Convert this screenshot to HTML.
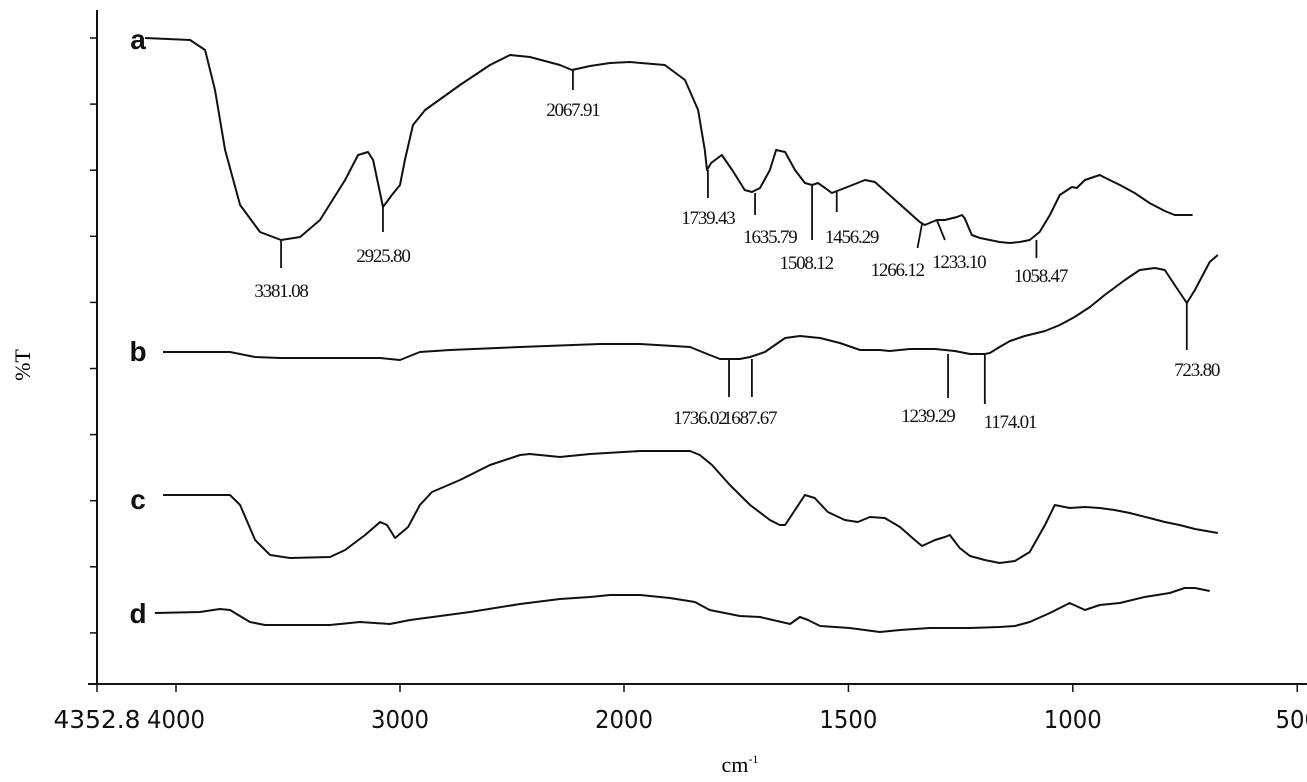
<!DOCTYPE html>
<html><head><meta charset="utf-8"><style>
html,body{margin:0;padding:0;background:#fff;}
svg{display:block;}
.tk{font-family:"DejaVu Sans","Liberation Sans",sans-serif;font-size:25px;fill:#111;}
.ann{font-family:"Liberation Serif",serif;font-size:19px;fill:#111;letter-spacing:-1.2px;}
.lbl{font-family:"Liberation Sans",sans-serif;font-weight:bold;font-size:28px;fill:#111;}
</style></head><body>
<svg id="chart" width="1307" height="782" viewBox="0 0 1307 782">
<g id="axes"></g>
<g id="series"></g>
<g id="anns"></g>
<text x="30" y="365" style="font-family:'Liberation Serif',serif;font-size:22px" transform="rotate(-90 30 365)" text-anchor="middle">%T</text>
<text x="740" y="772" style="font-family:'Liberation Serif',serif;font-size:22px" text-anchor="middle">cm<tspan dy="-9" font-size="12">-1</tspan></text>
</svg>
<script>
// x ticks (wavenumber) and labels
const xTicks = [4352.8, 4000, 3000, 2000, 1500, 1000, 500];
const xTickLabels = ["4352.8", "4000", "3000", "2000", "1500", "1000", "500"];
const yTickCount = 10;
// spectrum a
const aWn = [4138,3937,3870,3826,3781,3714,3625,3531,3446,3357,3245,3187,3143,3120,3076,3036,3000,2978,2942,2888,2732,2598,2509,2420,2286,2232,2152,2062,1987,1909,1864,1835,1820,1815,1806,1782,1759,1731,1715,1697,1675,1661,1641,1619,1597,1581,1568,1552,1537,1508,1463,1441,1396,1341,1330,1303,1285,1258,1247,1241,1225,1207,1185,1163,1140,1118,1096,1074,1051,1029,1002,991,973,940,918,895,862,829,795,773,733];
const aT = [645,643,633,593,533,478,451,443,446,463,503,528,531,523,476,488,498,523,558,573,598,618,628,626,618,613,617,620,621,618,603,573,533,513,520,528,513,493,491,495,513,533,531,513,500,498,500,495,490,495,503,501,483,461,458,463,463,466,468,465,448,445,443,441,440,441,443,451,468,488,496,495,503,508,503,498,490,480,472,468,468];
// spectrum b
const bWn = [4058,3759,3647,3536,3089,3000,2911,2777,2464,2107,1964,1853,1809,1786,1742,1719,1686,1641,1608,1563,1519,1474,1430,1408,1363,1307,1263,1229,1196,1185,1163,1140,1107,1062,1029,996,962,929,884,851,817,795,773,746,728,695,677];
const bT = [331,331,326,325,325,323,331,333,336,339,339,336,328,324,324,326,331,345,347,345,340,333,333,332,334,334,332,329,329,330,336,342,347,352,358,366,376,388,403,413,415,413,398,380,393,421,428];
// spectrum c
const cWn = [4058,3759,3714,3647,3580,3491,3312,3245,3156,3089,3058,3022,2964,2911,2857,2732,2598,2464,2420,2286,2152,1964,1853,1831,1804,1764,1719,1675,1653,1641,1619,1597,1575,1546,1508,1479,1452,1419,1385,1352,1336,1307,1285,1274,1252,1229,1196,1163,1129,1096,1062,1040,1007,973,940,907,873,829,795,762,728,677];
const cT = [188,188,178,143,128,125,126,133,148,161,158,145,156,178,191,203,218,228,229,226,229,232,232,228,218,198,178,163,158,158,173,188,185,171,163,161,166,165,156,143,137,143,146,148,135,127,123,120,122,131,158,178,175,176,175,173,170,165,161,158,154,150];
// spectrum d
const dWn = [4094,3893,3804,3759,3670,3603,3312,3179,3045,2955,2821,2687,2464,2286,2152,2062,1964,1898,1842,1809,1742,1697,1630,1608,1590,1563,1497,1430,1385,1319,1229,1163,1129,1096,1051,1007,973,940,895,840,784,751,728,695];
const dT = [70,71,74,73,61,58,58,61,59,63,67,71,79,84,86,88,88,85,81,73,67,66,59,66,63,57,55,51,53,55,55,56,57,61,70,80,73,78,80,86,90,95,95,92];
// peak annotations
const annLabels = ["3381.08","2925.80","2067.91","1739.43","1635.79","1508.12","1456.29","1266.12","1233.10","1058.47","1736.02","1687.67","1239.29","1174.01","723.80"];
const annWnTop = [3531,3076,2228,1813,1708,1581,1526,1336,1303,1081,1766,1715,1278,1196,746];
const annWnBot = [3531,3076,2228,1813,1708,1581,1526,1346,1285,1081,1766,1715,1278,1196,746];
const annTTop = [443,476,613,513,490,497,491,459,463,443,324,324,329,328,380];
const annTBot = [415,451,593,485,468,443,471,435,443,425,286,286,285,279,333];
const annLabelWn = [3531,3076,2228,1813,1675,1594,1493,1391,1254,1072,1831,1720,1323,1140,724];
const annLabelT = [393,428,574,466,447,421,447,414,422,408,266,266,268,262,314];

function xScale(w){ return w >= 2000 ? 624 - (w - 2000) * 0.224 : 624 + (2000 - w) * 0.4488; }
function yScale(t){ return 683 - t; }
const NS = "http://www.w3.org/2000/svg";
function mk(tag, attrs, parent){ const e = document.createElementNS(NS, tag); for (const k in attrs) e.setAttribute(k, attrs[k]); parent.appendChild(e); return e; }

const axes = document.getElementById('axes');
let e = mk('line', {x1:97,y1:10,x2:97,y2:684,stroke:'#111','stroke-width':2}, axes);


e = mk('line', {x1:88,y1:684,x2:1307,y2:684,stroke:'#111','stroke-width':2}, axes);


for (let i = 0; i < yTickCount; i++) {
  const y = 38 + i * 66.1;
  e = mk('line', {x1:90,y1:y,x2:97,y2:y,stroke:'#111','stroke-width':1.5}, axes);
  
  
}
xTicks.forEach((w, i) => {
  const x = xScale(w);
  e = mk('line', {x1:x,y1:684,x2:x,y2:692,stroke:'#111','stroke-width':1.5}, axes);
  
  
  const lab = xTickLabels[i];
  const t = mk('text', {x:x,y:728,'text-anchor':'middle',class:'tk',textLength: lab.length * 14.5,lengthAdjust:'spacingAndGlyphs'}, axes);
  t.textContent = lab;
  
  
});

const series = document.getElementById('series');
const sets = [['a', aWn, aT, 40], ['b', bWn, bT, 352], ['c', cWn, cT, 500], ['d', dWn, dT, 614]];
sets.forEach(([name, wn, tv, ly]) => {
  const d = wn.map((w, i) => (i ? 'L' : 'M') + xScale(w).toFixed(1) + ' ' + yScale(tv[i]).toFixed(1)).join(' ');
  const p = mk('path', {d:d,fill:'none',stroke:'#111','stroke-width':2,'stroke-linejoin':'round'}, series);
  
  
  const t = mk('text', {x:138,y:ly + 9,'text-anchor':'middle',class:'lbl'}, series);
  t.textContent = name;
  
  
});

const anns = document.getElementById('anns');
annLabels.forEach((lab, i) => {
  const l = mk('line', {x1:xScale(annWnTop[i]),y1:yScale(annTTop[i]),x2:xScale(annWnBot[i]),y2:yScale(annTBot[i]),stroke:'#111','stroke-width':1.8}, anns);
  
  
  const t = mk('text', {x:xScale(annLabelWn[i]),y:yScale(annLabelT[i]) + 7,'text-anchor':'middle',class:'ann'}, anns);
  t.textContent = lab;
  
  
});
</script>
</body></html>
